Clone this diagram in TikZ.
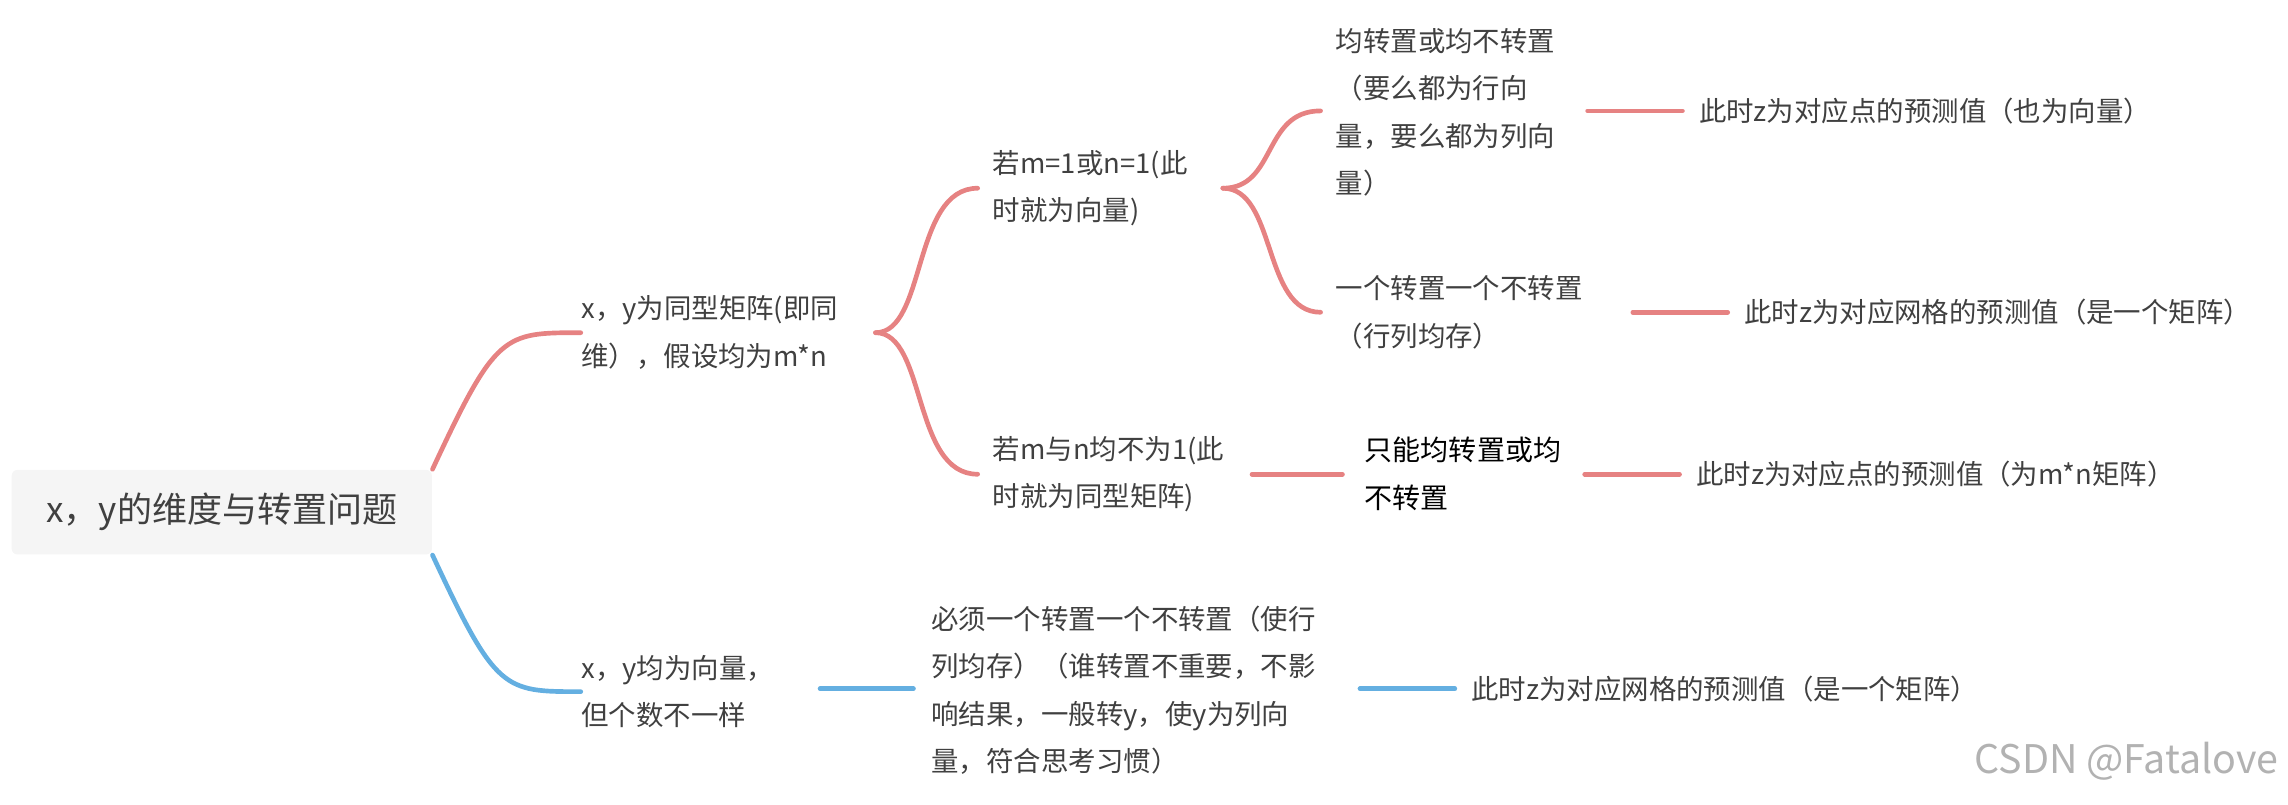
\documentclass[tikz,border=0pt]{standalone}
\usepackage{fontspec}
\setmainfont{Noto Sans CJK SC}
\begin{document}
\begin{tikzpicture}[x=0.5pt,y=-0.5pt,
  txt/.style={anchor=west,align=left,inner sep=0pt,text=black!75,font=\fontsize{9.4}{16.3}\selectfont},
  redl/.style={draw={rgb,255:red,230;green,130;blue,130},line width=1.6pt,line cap=round},
  bluel/.style={draw={rgb,255:red,100;green,175;blue,225},line width=1.6pt,line cap=round}]
\useasboundingbox (0,0) rectangle (1568,551);
\node[fill=black!4,rounded corners=2pt,minimum width=144pt,minimum height=29pt,inner sep=0pt,text=black!75,font=\fontsize{12}{14}\selectfont] (root) at (152,351) {x，y的维度与转置问题};
\node[txt] (A) at (398,228) {x，y为同型矩阵(即同\\维），假设均为m*n};
\node[txt] (B) at (398,474) {x，y均为向量，\\但个数不一样};
\node[txt] (B1) at (638,473) {必须一个转置一个不转置（使行\\列均存）（谁转置不重要，不影\\响结果，一般转y，使y为列向\\量，符合思考习惯）};
\node[txt] (B2) at (1008,472) {此时z为对应网格的预测值（是一个矩阵）};
\node[txt] (A1) at (680,129) {若m=1或n=1(此\\时就为向量)};
\node[txt] (A2) at (680,325) {若m与n均不为1(此\\时就为同型矩阵)};
\node[txt] (A11) at (915,77) {均转置或均不转置\\（要么都为行向\\量，要么都为列向\\量）};
\node[txt] (A11z) at (1164,76) {此时z为对应点的预测值（也为向量）};
\node[txt] (A12) at (915,214) {一个转置一个不转置\\（行列均存）};
\node[txt] (A12z) at (1195,214) {此时z为对应网格的预测值（是一个矩阵）};
\node[txt,text=black,font=\fontsize{9.6}{16.5}\selectfont] (A21) at (935,325) {只能均转置或均\\不转置};
\node[txt] (A21z) at (1162,325) {此时z为对应点的预测值（为m*n矩阵）};
\node[anchor=east,inner sep=0pt,text=black!30,font=\fontsize{13.5}{15}\selectfont] (wm) at (1562,522) {CSDN @Fatalove};
\draw[redl] (root.north east) .. controls (340,228) and (345,228) .. (A.west);
\draw[bluel] (root.south east) .. controls (340,474) and (345,474) .. (B.west);
\draw[bluel] (562,472) -- (626,472);
\draw[bluel] (932,472) -- (997,472);
\coordinate (ja) at (600,228);
\draw[redl] (ja) .. controls (635,228) and (625,129) .. (670,129);
\draw[redl] (ja) .. controls (635,228) and (625,325) .. (670,325);
\coordinate (jb) at (838,129);
\draw[redl] (jb) .. controls (875,129) and (865,76) .. (905,76);
\draw[redl] (jb) .. controls (875,129) and (865,214) .. (905,214);
\draw[redl] (1088,76) -- (1153,76);
\draw[redl] (1119,214) -- (1184,214);
\draw[redl] (858,325) -- (920,325);
\draw[redl] (1086,325) -- (1151,325);
\end{tikzpicture}
\end{document}
